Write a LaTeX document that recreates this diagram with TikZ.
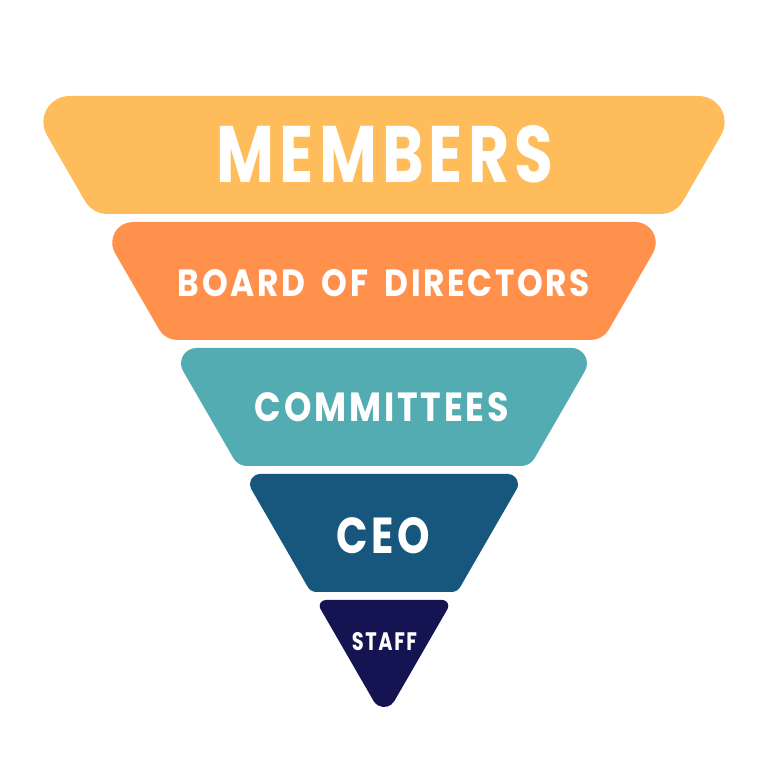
\documentclass[tikz,border=0pt]{standalone}
\usepackage{fontspec}
\setmainfont{Poppins}
\usepackage{graphicx}
\definecolor{cmem}{HTML}{FFBC5A}
\definecolor{cboard}{HTML}{FF914D}
\definecolor{ccom}{HTML}{52ACB1}
\definecolor{cceo}{HTML}{17577E}
\definecolor{cstaff}{HTML}{141452}
% #1 colour, #2 top y (image px), #3 bottom y (image px), #4 corner radius
\newcommand\trapband[4]{%
 \pgfmathsetmacro\hwT{(719-#2)*0.57735}%
 \pgfmathsetmacro\hwB{(719-#3)*0.57735}%
 \pgfmathsetmacro\YT{768-#2}%
 \pgfmathsetmacro\YB{768-#3}%
 \pgfmathsetmacro\tA{#4*1.73205}%
 \pgfmathsetmacro\tB{#4*0.57735}%
 \fill[#1] ({384+\hwT-\tA},\YT) arc[start angle=90,end angle=-30,radius=#4]
   -- ({384+\hwB+0.5*\tB},{\YB+0.86603*\tB}) arc[start angle=-30,end angle=-90,radius=#4]
   -- ({384-\hwB+\tB},\YB) arc[start angle=-90,end angle=-150,radius=#4]
   -- ({384-\hwT+0.5*\tA},{\YT-0.86603*\tA}) arc[start angle=210,end angle=90,radius=#4]
   -- cycle;
}
\tikzset{lbl/.style={text=white, inner sep=0pt, font=\bfseries\addfontfeatures{LetterSpace=8}}}
\begin{document}
\begin{tikzpicture}[x=1pt,y=1pt]
\fill[white] (0,0) rectangle (768,768);
\useasboundingbox (0,0) rectangle (768,768);
\trapband{cmem}{96}{214}{26}
\trapband{cboard}{222}{340}{20.7}
\trapband{ccom}{348}{466}{15.4}
\trapband{cceo}{474}{592}{10.2}
% staff triangle
\fill[cstaff] ({384+68.7-6*1.73205},168) arc[start angle=90,end angle=-30,radius=6]
  -- ({384+0.86603*12},{49+1.5*12}) arc[start angle=-30,end angle=-150,radius=12]
  -- ({384-68.7+0.86603*6},{168-1.5*6}) arc[start angle=210,end angle=90,radius=6]
  -- cycle;
\node[lbl] (members) at (385,{768-154.5}) {\resizebox{336pt}{57pt}{MEMBERS}};
\node[lbl] (board) at (384,{768-283.5}) {\resizebox{412pt}{27pt}{BOARD\hspace{0.5em}OF\hspace{0.5em}DIRECTORS}};
\node[lbl] (committees) at (382,{768-407.5}) {\resizebox{254pt}{29pt}{COMMITTEES}};
\node[lbl] (ceo) at (383.5,{768-536}) {\resizebox{93pt}{36pt}{CEO}};
\node[lbl] (staff) at (384.5,{768-642}) {\resizebox{65pt}{18pt}{STAFF}};
\end{tikzpicture}
\end{document}
